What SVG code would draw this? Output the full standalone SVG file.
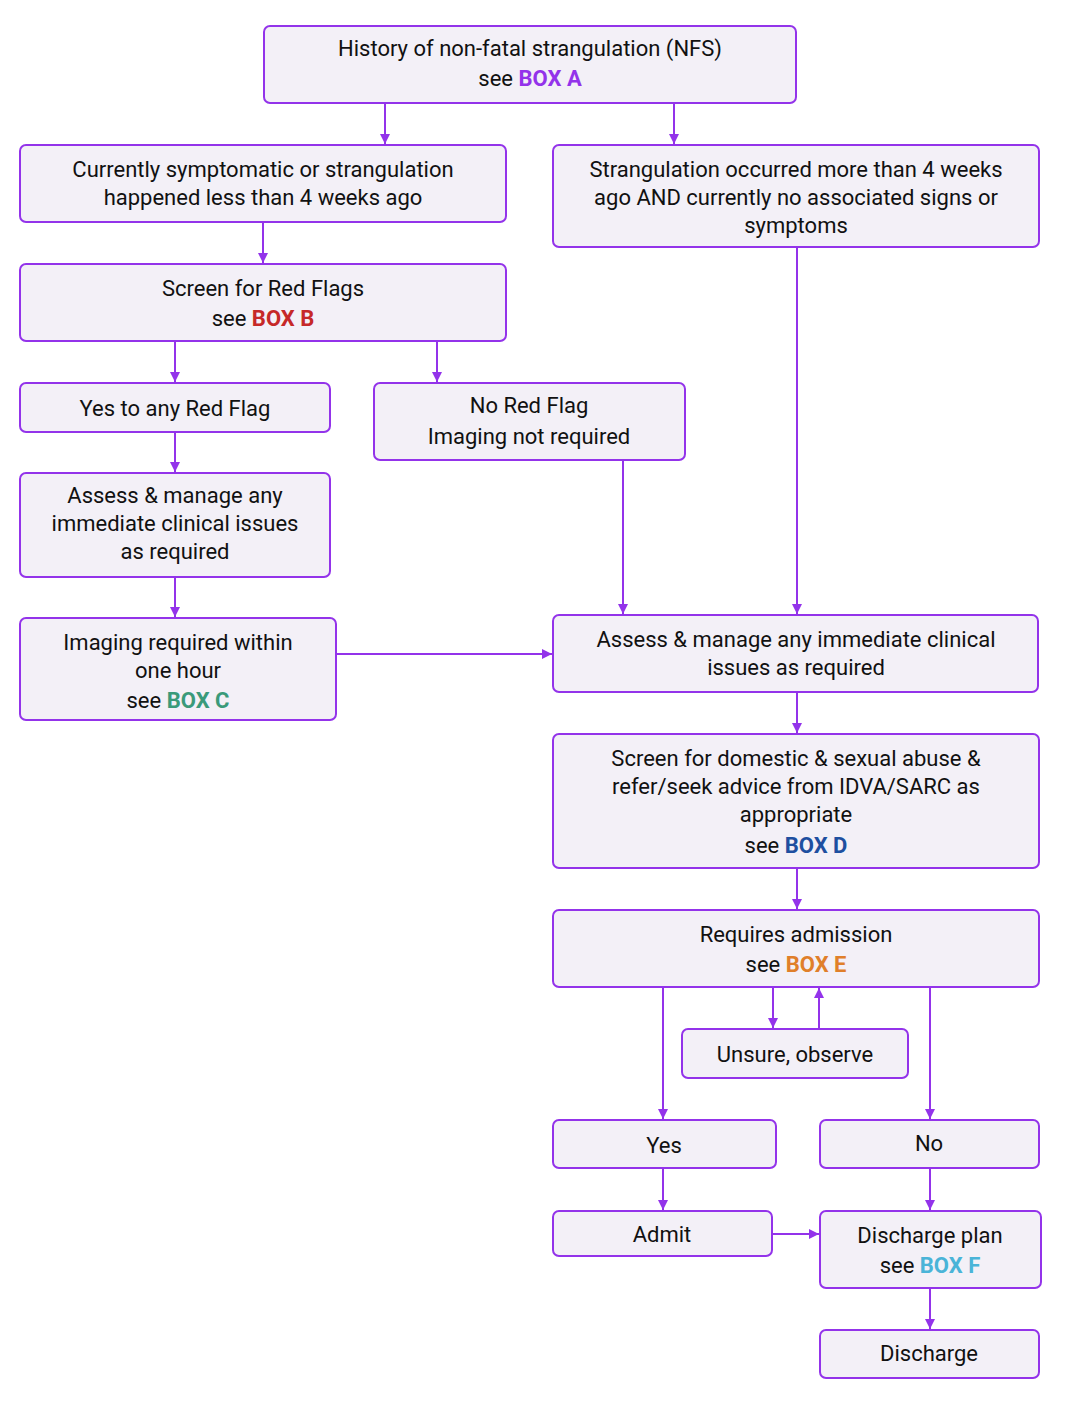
<svg xmlns="http://www.w3.org/2000/svg" width="1074" height="1412" viewBox="0 0 1074 1412">
<style>
.n rect{fill:#f3f0f7;stroke:#9333ea;stroke-width:2}
text{font-family:Roboto,"Liberation Sans",sans-serif;font-size:22px;fill:#111;text-anchor:middle}
.b{font-weight:bold}
#edges line{stroke:#9333ea;stroke-width:2;marker-end:url(#ah)}
</style>
<defs><marker id="ah" viewBox="0 0 10 10" refX="10" refY="5" markerWidth="5" markerHeight="5" orient="auto"><path d="M0,0L10,5L0,10z" fill="#9333ea"/></marker></defs>
<rect width="1074" height="1412" fill="#fff"/>
<g id="edges">
<line x1="385" y1="103" x2="385" y2="144"/>
<line x1="674" y1="103" x2="674" y2="144"/>
<line x1="263" y1="222" x2="263" y2="263"/>
<line x1="175" y1="341" x2="175" y2="382"/>
<line x1="437" y1="341" x2="437" y2="382"/>
<line x1="175" y1="432" x2="175" y2="472"/>
<line x1="175" y1="577" x2="175" y2="617"/>
<line x1="623" y1="460" x2="623" y2="614"/>
<line x1="797" y1="247" x2="797" y2="614"/>
<line x1="336" y1="654" x2="552" y2="654"/>
<line x1="797" y1="692" x2="797" y2="733"/>
<line x1="797" y1="868" x2="797" y2="909"/>
<line x1="773" y1="987" x2="773" y2="1028"/>
<line x1="819" y1="1029" x2="819" y2="988"/>
<line x1="663" y1="987" x2="663" y2="1119"/>
<line x1="930" y1="987" x2="930" y2="1119"/>
<line x1="663" y1="1168" x2="663" y2="1210"/>
<line x1="930" y1="1168" x2="930" y2="1210"/>
<line x1="772" y1="1234" x2="819" y2="1234"/>
<line x1="930" y1="1288" x2="930" y2="1329"/>
</g>
<g id="boxA" class="n"><rect x="264" y="26" width="532" height="77" rx="6"/><text x="530" y="56">History of non-fatal strangulation (NFS)</text><text x="530" y="86">see <tspan class="b" fill="#9333ea">BOX A</tspan></text></g>
<g id="recent" class="n"><rect x="20" y="145" width="486" height="77" rx="6"/><text x="263" y="177">Currently symptomatic or strangulation</text><text x="263" y="205">happened less than 4 weeks ago</text></g>
<g id="old" class="n"><rect x="553" y="145" width="486" height="102" rx="6"/><text x="796" y="177">Strangulation occurred more than 4 weeks</text><text x="796" y="205">ago AND currently no associated signs or</text><text x="796" y="233">symptoms</text></g>
<g id="screenRF" class="n"><rect x="20" y="264" width="486" height="77" rx="6"/><text x="263" y="296">Screen for Red Flags</text><text x="263" y="326">see <tspan class="b" fill="#c62828">BOX B</tspan></text></g>
<g id="yesRF" class="n"><rect x="20" y="383" width="310" height="49" rx="6"/><text x="175" y="416">Yes to any Red Flag</text></g>
<g id="noRF" class="n"><rect x="374" y="383" width="311" height="77" rx="6"/><text x="529" y="413">No Red Flag</text><text x="529" y="444">Imaging not required</text></g>
<g id="assessL" class="n"><rect x="20" y="473" width="310" height="104" rx="6"/><text x="175" y="503">Assess &amp; manage any</text><text x="175" y="531">immediate clinical issues</text><text x="175" y="559">as required</text></g>
<g id="imaging" class="n"><rect x="20" y="618" width="316" height="102" rx="6"/><text x="178" y="650">Imaging required within</text><text x="178" y="678">one hour</text><text x="178" y="708">see <tspan class="b" fill="#3a9a7a">BOX C</tspan></text></g>
<g id="assessR" class="n"><rect x="553" y="615" width="485" height="77" rx="6"/><text x="796" y="647">Assess &amp; manage any immediate clinical</text><text x="796" y="675">issues as required</text></g>
<g id="screenDA" class="n"><rect x="553" y="734" width="486" height="134" rx="6"/><text x="796" y="766">Screen for domestic &amp; sexual abuse &amp;</text><text x="796" y="794">refer/seek advice from IDVA/SARC as</text><text x="796" y="822">appropriate</text><text x="796" y="853">see <tspan class="b" fill="#1e4fa0">BOX D</tspan></text></g>
<g id="admission" class="n"><rect x="553" y="910" width="486" height="77" rx="6"/><text x="796" y="942">Requires admission</text><text x="796" y="972">see <tspan class="b" fill="#e07f2a">BOX E</tspan></text></g>
<g id="unsure" class="n"><rect x="682" y="1029" width="226" height="49" rx="6"/><text x="795" y="1062">Unsure, observe</text></g>
<g id="yes" class="n"><rect x="553" y="1120" width="223" height="48" rx="6"/><text x="664" y="1153">Yes</text></g>
<g id="no" class="n"><rect x="820" y="1120" width="219" height="48" rx="6"/><text x="929" y="1151">No</text></g>
<g id="admit" class="n"><rect x="553" y="1211" width="219" height="45" rx="6"/><text x="662" y="1242">Admit</text></g>
<g id="dplan" class="n"><rect x="820" y="1211" width="221" height="77" rx="6"/><text x="930" y="1243">Discharge plan</text><text x="930" y="1273">see <tspan class="b" fill="#4ab4d8">BOX F</tspan></text></g>
<g id="discharge" class="n"><rect x="820" y="1330" width="219" height="48" rx="6"/><text x="929" y="1361">Discharge</text></g>
</svg>
